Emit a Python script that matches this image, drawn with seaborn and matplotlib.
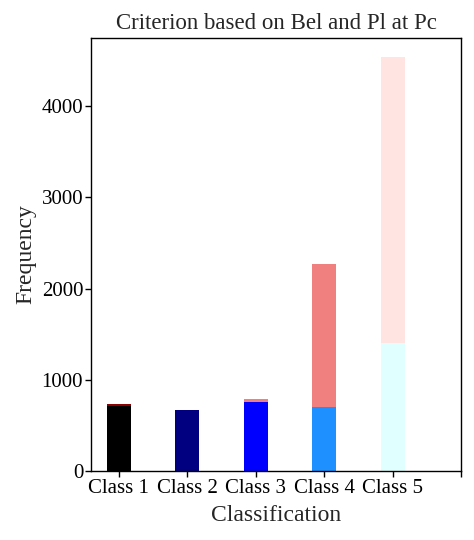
import pandas as pd
import matplotlib
matplotlib.use("Agg")
import matplotlib.pyplot as plt
import seaborn as sns

# values
classes = ["Class 1", "Class 2", "Class 3", "Class 4", "Class 5"]
lower_counts = [715, 668, 753, 705, 1400]
upper_counts = [15, 0, 33, 1560, 3140]
lower_colors = ["black", "navy", "blue", "dodgerblue", "lightcyan"]
upper_colors = ["darkred", "lightcoral", "lightcoral", "lightcoral", "mistyrose"]
yticks = [0, 1000, 2000, 3000, 4000]

sns.set_theme(style="ticks")
plt.rcParams["font.family"] = ["Liberation Serif", "DejaVu Serif"]

df = pd.DataFrame({
    "Classification": classes,
    "lower": lower_counts,
    "total": [a + b for a, b in zip(lower_counts, upper_counts)],
})

fig = plt.figure(figsize=(4.74, 5.40), dpi=100)
ax = fig.add_axes([0.193, 0.128, 0.780, 0.802])

# total height first (top colour), then the lower part over it
sns.barplot(data=df, x="Classification", y="total", hue="Classification",
            palette=upper_colors, width=0.35, legend=False, ax=ax,
            saturation=1, linewidth=0)
sns.barplot(data=df, x="Classification", y="lower", hue="Classification",
            palette=lower_colors, width=0.35, legend=False, ax=ax,
            saturation=1, linewidth=0)

ax.set_xticks(range(len(classes) + 1))
ax.set_xticklabels(classes + [""], fontsize=15)
ax.set_xlim(-0.4, 5.0)
ax.set_yticks(yticks)
ax.set_yticklabels([str(t) for t in yticks], fontsize=15)
ax.set_ylim(0, 4750)

ax.set_xlabel("Classification", fontsize=17, labelpad=5)
ax.set_ylabel("Frequency", fontsize=17)
ax.set_title("Criterion based on Bel and Pl at Pc", fontsize=16.5, pad=6)

for s in ax.spines.values():
    s.set_color("black")
    s.set_linewidth(1.0)
ax.tick_params(colors="black", length=4, width=1.0, pad=2)

fig.savefig("out.png", dpi=100)
